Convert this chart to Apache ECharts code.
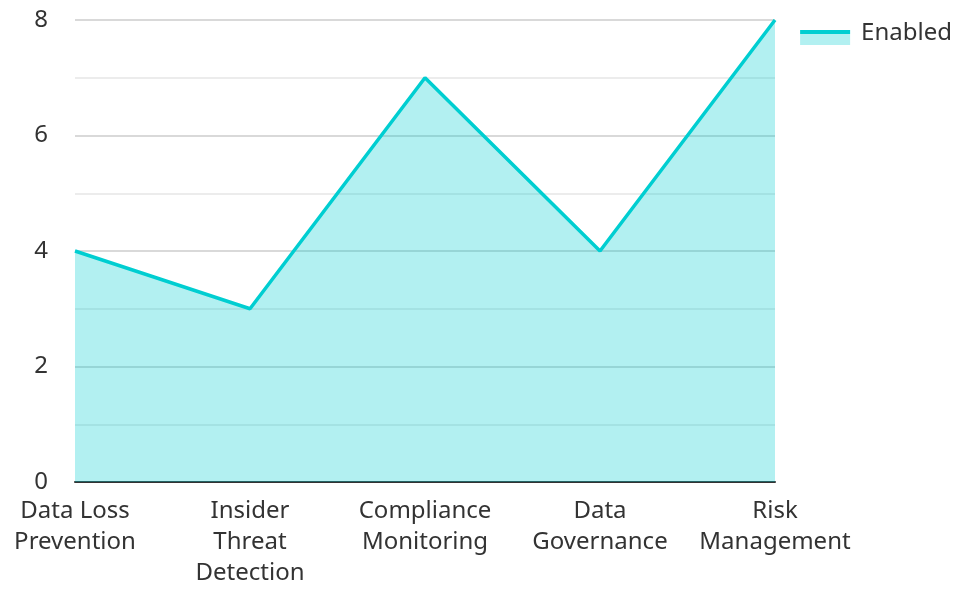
<!DOCTYPE html>
<html>
<head>
<meta charset="utf-8">
<script src="https://cdn.jsdelivr.net/npm/echarts@6/dist/echarts.min.js"></script>
<style>
  html, body { margin: 0; padding: 0; background: #fff; }
  #chart { width: 957px; height: 589px; }
</style>
</head>
<body>
<div id="chart"></div>
<script>
// chart data
var categories = ['Data Loss\nPrevention', 'Insider\nThreat\nDetection', 'Compliance\nMonitoring', 'Data\nGovernance', 'Risk\nManagement'];
var enabledValues = [4, 3, 7, 4, 8];
var seriesName = 'Enabled';

var lineColor = '#00CED1';
var areaColor = 'rgba(0, 206, 209, 0.3)';

var chart = echarts.init(document.getElementById('chart'));
chart.setOption({
  textStyle: { fontFamily: 'Noto Sans' },
  grid: { left: 75, right: 182, top: 20, bottom: 102, containLabel: false },
  legend: {
    data: [seriesName],
    right: 0,
    top: 16,
    // tiny dot at the top keeps the bar sitting a bit lower than the text centre
    icon: 'path://M0,0L0.01,0L0.01,0.01Z M0,9L50,9L50,24L0,24Z',
    itemWidth: 50,
    itemHeight: 24,
    textStyle: { fontSize: 24, color: '#333', fontFamily: 'Noto Sans', padding: [0, 0, 8, 6] },
    itemStyle: {
      color: new echarts.graphic.LinearGradient(0, 0, 0, 1, [
        { offset: 0, color: lineColor },
        { offset: 0.55, color: lineColor },
        { offset: 0.55, color: '#b2f0f1' },
        { offset: 1, color: '#b2f0f1' }
      ])
    }
  },
  xAxis: {
    type: 'category',
    boundaryGap: false,
    data: categories,
    axisLine: { lineStyle: { color: '#333', width: 2 } },
    axisTick: { show: false },
    axisLabel: { interval: 0, fontSize: 24, color: '#333', lineHeight: 31, margin: 14 }
  },
  yAxis: {
    type: 'value',
    min: 0,
    max: 8,
    interval: 2,
    axisLine: { show: false },
    axisTick: { show: false },
    axisLabel: { fontSize: 24, color: '#333', margin: 27 },
    splitLine: { lineStyle: { color: '#ccc', width: 1.5 } },
    minorTick: { show: false, splitNumber: 2 },
    minorSplitLine: { show: true, lineStyle: { color: '#e6e6e6', width: 1.5 } }
  },
  series: [{
    name: seriesName,
    type: 'line',
    data: enabledValues,
    showSymbol: false,
    symbol: 'none',
    lineStyle: { color: lineColor, width: 3.5 },
    itemStyle: { color: lineColor },
    areaStyle: { color: areaColor, opacity: 1 }
  }]
});
</script>
</body>
</html>
